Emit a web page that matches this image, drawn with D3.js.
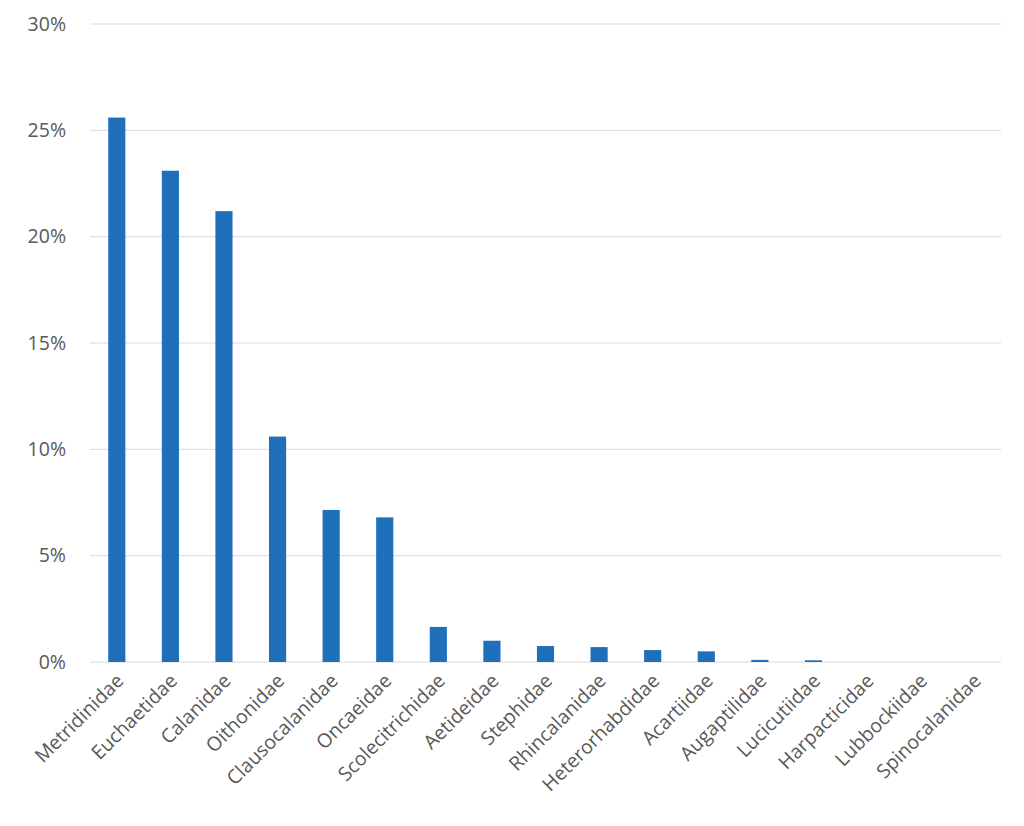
<!DOCTYPE html>
<html>
<head>
<meta charset="utf-8">
<script src="https://cdn.jsdelivr.net/npm/d3@7"></script>
<style>
  body { margin: 0; background: #fff; }
  text { font-family: "Open Sans", "Noto Sans", sans-serif; fill: #595959; }
</style>
</head>
<body>
<div id="chart"></div>
<script>
const families = ["Metridinidae", "Euchaetidae", "Calanidae", "Oithonidae", "Clausocalanidae",
  "Oncaeidae", "Scolecitrichidae", "Aetideidae", "Stephidae", "Rhincalanidae",
  "Heterorhabdidae", "Acartiidae", "Augaptilidae", "Lucicutiidae", "Harpacticidae",
  "Lubbockiidae", "Spinocalanidae"];
const shares = [0.256, 0.231, 0.212, 0.106, 0.0715, 0.068, 0.0165, 0.010, 0.0075, 0.007,
  0.0056, 0.005, 0.001, 0.0008, 0, 0, 0];
const yTicks = [0, 0.05, 0.10, 0.15, 0.20, 0.25, 0.30];

const width = 1024, height = 826;
const margin = { top: 24, right: 23, bottom: 164, left: 90 };

const svg = d3.select("#chart").append("svg")
  .attr("width", width).attr("height", height);

const x = d3.scaleBand().domain(families)
  .range([margin.left, width - margin.right]).paddingInner(0.68).paddingOuter(0.34);
const y = d3.scaleLinear().domain([0, 0.30]).range([height - margin.bottom, margin.top]);

// gridlines
svg.append("g").selectAll("line").data(yTicks).join("line")
  .attr("x1", margin.left).attr("x2", width - margin.right)
  .attr("y1", d => y(d)).attr("y2", d => y(d))
  .attr("stroke", "#d9d9d9").attr("stroke-width", 1);

// y labels
svg.append("g").selectAll("text").data(yTicks).join("text")
  .attr("x", 66).attr("y", d => y(d)).attr("dy", "0.35em")
  .attr("text-anchor", "end").attr("font-size", 19.5)
  .text(d => d3.format(".0%")(d));

// bars
svg.append("g").selectAll("rect").data(families).join("rect")
  .attr("x", d => x(d)).attr("width", x.bandwidth())
  .attr("y", (d, i) => y(shares[i]))
  .attr("height", (d, i) => y(0) - y(shares[i]))
  .attr("fill", "#1f6fba");

// x labels
svg.append("g").selectAll("text").data(families).join("text")
  .attr("text-anchor", "end").attr("font-size", 19.5)
  .attr("transform", d => `translate(${x(d) + x.bandwidth() / 2 + 8},${y(0) + 20}) rotate(-45)`)
  .text(d => d);
</script>
</body>
</html>
